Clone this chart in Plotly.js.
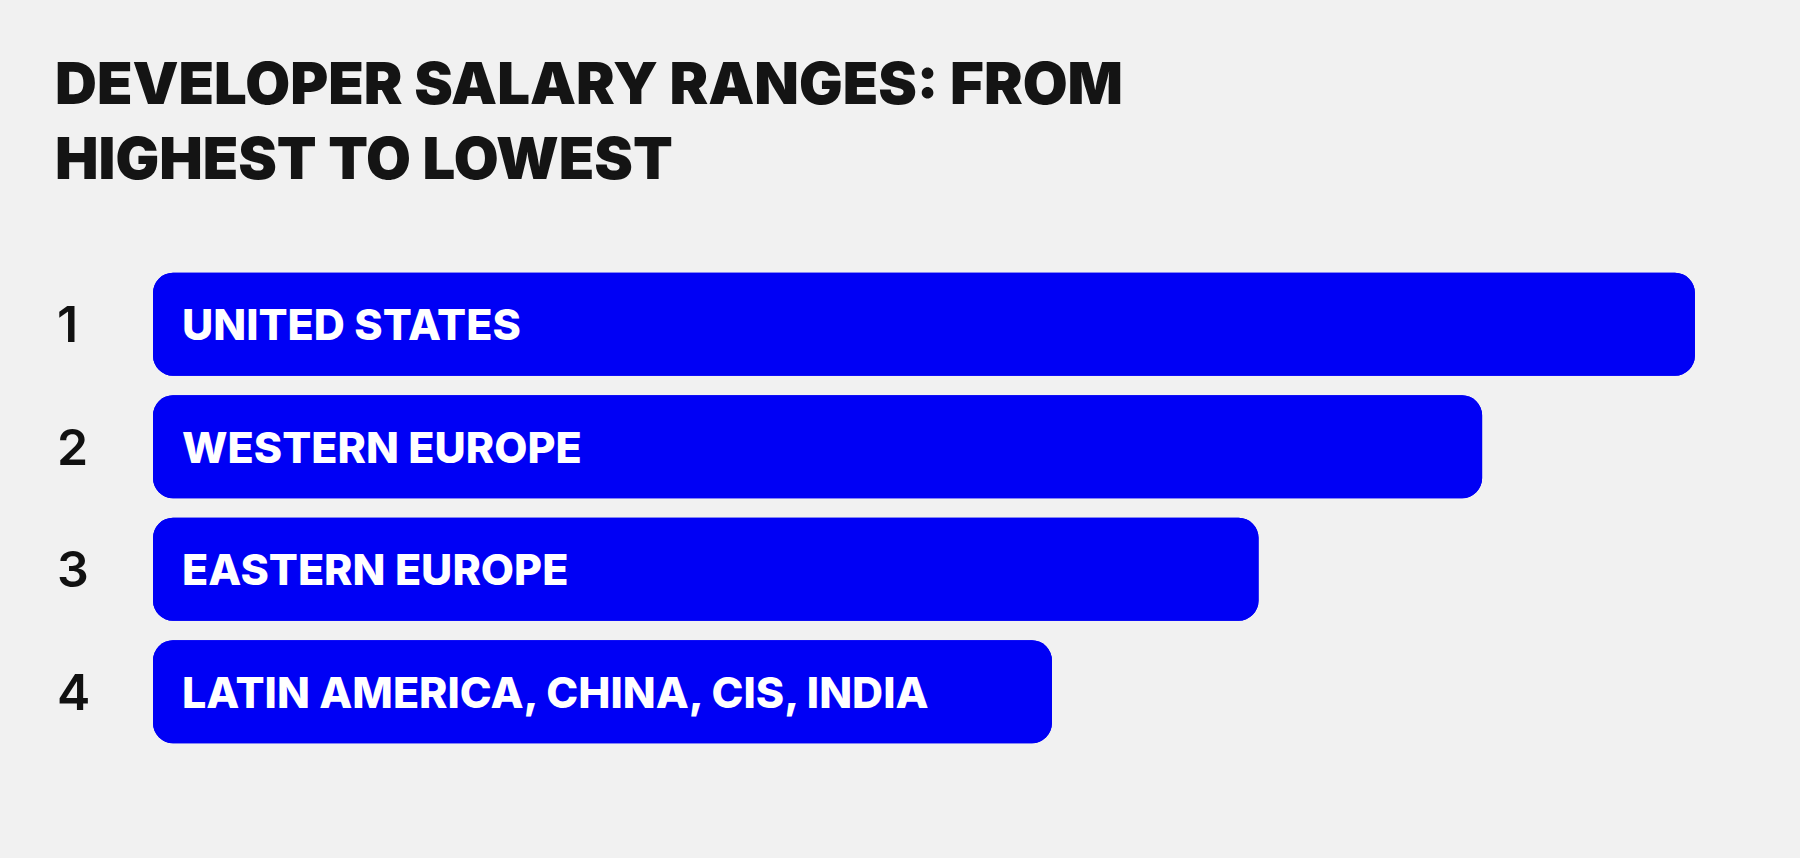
<!DOCTYPE html>
<html>
<head>
<meta charset="utf-8">
<script src="https://cdn.plot.ly/plotly-3.0.1.min.js"></script>
<style>
html,body{margin:0;padding:0;background:#f1f1f1;}
#chart{width:1800px;height:858px;}
</style>
</head>
<body>
<div id="chart"></div>
<script>
// Data
const ranks = ["1", "2", "3", "4"];
const regions = ["UNITED STATES", "WESTERN EUROPE", "EASTERN EUROPE", "LATIN AMERICA, CHINA, CIS, INDIA"];
const salaryIndex = [100, 86.2, 71.7, 58.3];

const BLUE = "#0000f5";
const BG = "#f1f1f1";
const FONT = "Inter, 'Open Sans', sans-serif";

// Two overlaid bars: one rounded at the far end, one rounded at the base end
const barRight = {
  type: "bar", orientation: "h",
  y: ranks, x: salaryIndex, base: 0,
  marker: {color: BLUE, cornerradius: 20},
  hoverinfo: "skip", showlegend: false
};
const barLeft = {
  type: "bar", orientation: "h",
  y: ranks, x: salaryIndex.map(v => -v), base: salaryIndex,
  marker: {color: BLUE, cornerradius: 20},
  hoverinfo: "skip", showlegend: false
};

const marginL = 153, marginR = 28;
const plotW = 1800 - marginL - marginR;

const annotations = [];
ranks.forEach((r, i) => {
  annotations.push({
    xref: "paper", yref: "y", x: -(marginL - 55) / plotW, y: i,
    xanchor: "left", yanchor: "middle", showarrow: false,
    text: r, font: {family: FONT, size: 50, color: "#111111", weight: 600}
  });
  annotations.push({
    xref: "x", yref: "y", x: 0, y: i, xshift: 27,
    xanchor: "left", yanchor: "middle", showarrow: false,
    text: regions[i], font: {family: FONT, size: 43, color: "#ffffff", weight: 800}
  });
});

const layout = {
  width: 1800, height: 858,
  paper_bgcolor: BG, plot_bgcolor: BG,
  margin: {l: marginL, r: marginR, t: 263, b: 105, pad: 0},
  barmode: "overlay",
  bargap: 0.16,
  title: {
    text: "DEVELOPER SALARY RANGES: FROM<br>HIGHEST TO LOWEST",
    font: {family: FONT, size: 58, color: "#141414", weight: 900},
    xref: "container", yref: "container",
    x: 55 / 1800, xanchor: "left",
    y: 1 - 104 / 858, yanchor: "top"
  },
  xaxis: {range: [0, 105], visible: false, showgrid: false, zeroline: false, fixedrange: true},
  yaxis: {type: "category", categoryorder: "array", categoryarray: ranks, range: [3.5, -0.5],
          showticklabels: false, showgrid: false, zeroline: false, showline: false, ticks: "", fixedrange: true},
  annotations: annotations,
  showlegend: false
};

Plotly.newPlot("chart", [barRight, barLeft], layout, {displayModeBar: false, staticPlot: true});
</script>
</body>
</html>
